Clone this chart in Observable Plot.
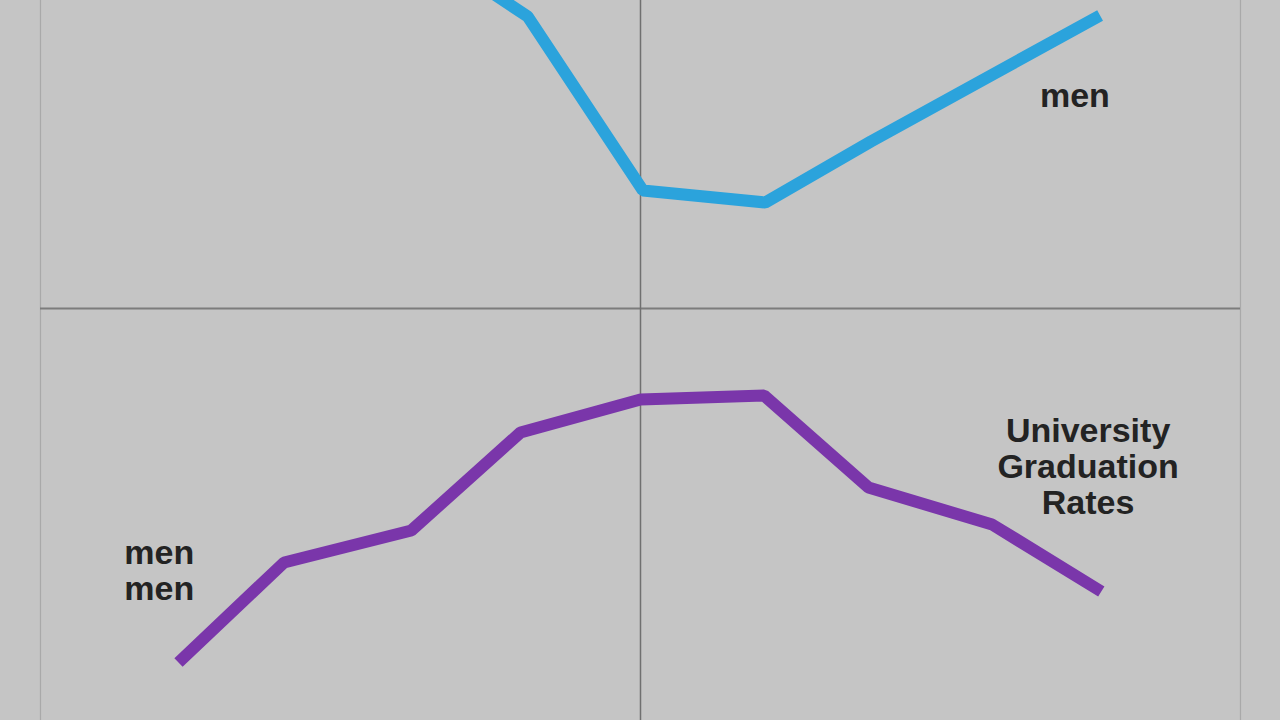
<!DOCTYPE html>
<html>
<head>
<meta charset="utf-8">
<script src="https://cdn.jsdelivr.net/npm/d3@7"></script>
<script src="https://cdn.jsdelivr.net/npm/@observablehq/plot@0.6"></script>
<style>
  html, body { margin: 0; padding: 0; background: #c6c6c6; overflow: hidden; }
  #chart svg { display: block; }
</style>
</head>
<body>
<div id="chart"></div>
<script>
// Years (x) and rates (y)
const purpleYears = [2010.15, 2011.03, 2012.09, 2013.0, 2014.0, 2015.03, 2015.9, 2016.93, 2017.84];
const purpleRates = [5.8, 15.8, 19.0, 28.8, 32.1, 32.5, 23.3, 19.6, 12.9];

const blueYears = [2012.08, 2013.06, 2014.02, 2015.04, 2015.92, 2016.92, 2017.83];
const blueRates = [78.2, 70.4, 53.0, 51.8, 57.9, 64.5, 70.5];

const panelEdges = [2009, 2019];
const panelMiddle = [2014];
const panelDivider = [41.2];

const labels = [
  {text: "men", x: 2017.62, y: 62.5},
  {text: "men\nmen", x: 2009.99, y: 15.0},
  {text: "University\nGraduation\nRates", x: 2017.73, y: 25.4}
];

const purple = purpleYears.map((x, i) => ({x, y: purpleRates[i]}));
const blue = blueYears.map((x, i) => ({x, y: blueRates[i]}));

const chart = Plot.plot({
  width: 1280,
  height: 720,
  margin: 0,
  style: {background: "#c5c5c5", overflow: "hidden"},
  x: {domain: [2014 - 640 / 120, 2014 + 640 / 120], range: [0, 1280], axis: null},
  y: {domain: [0, 72], range: [720, 0], axis: null},
  marks: [
    Plot.ruleX(panelEdges, {x: d => d, stroke: "#a9a9a9", strokeWidth: 1.2}),
    Plot.ruleY(panelDivider, {y: d => d, x1: panelEdges[0], x2: panelEdges[1], stroke: "#7c7c7c", strokeWidth: 2}),
    Plot.ruleX(panelMiddle, {x: d => d, stroke: "#707070", strokeWidth: 1.5}),
    Plot.line(blue, {x: "x", y: "y", stroke: "#2ba3dc", strokeWidth: 12, strokeLinejoin: "miter", strokeLinecap: "butt"}),
    Plot.line(purple, {x: "x", y: "y", stroke: "#7a36aa", strokeWidth: 12, strokeLinejoin: "miter", strokeLinecap: "butt"}),
    Plot.text(labels, {
      x: "x", y: "y", text: "text",
      fontSize: 34, fontWeight: "bold", fontFamily: "Liberation Sans, Arial, sans-serif",
      fill: "#232323", lineHeight: 1.06, textAnchor: "middle"
    })
  ]
});
document.getElementById("chart").appendChild(chart);
</script>
</body>
</html>
